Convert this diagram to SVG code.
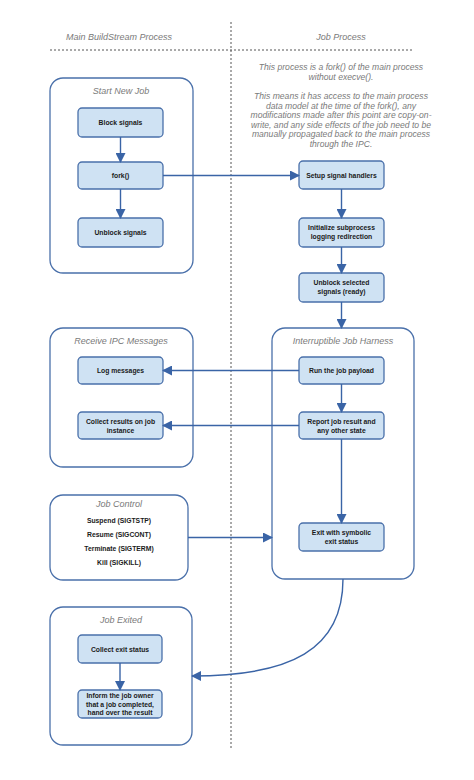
<svg xmlns="http://www.w3.org/2000/svg" width="474" height="780" viewBox="0 0 474 780">
<defs>
<marker id="ah" viewBox="0 0 10 10" refX="9" refY="5" markerWidth="10" markerHeight="10" markerUnits="userSpaceOnUse" orient="auto">
<path d="M0,0 L10,5 L0,10 z" fill="#3a64a6"/>
</marker>
<style>
.sep{stroke:#555;stroke-width:1;stroke-dasharray:2,2;fill:none}
.cont{fill:#fff;stroke:#4a70aa;stroke-width:1.3}
.node{fill:#cfe2f3;stroke:#4a70aa;stroke-width:1.3}
.lbl{font-family:"Liberation Sans",Arial,sans-serif;font-size:6.8px;font-weight:bold;fill:#1a1a1a;text-anchor:middle}
.ttl{font-family:"Liberation Sans",Arial,sans-serif;font-size:9px;font-style:italic;fill:#7a7a7a;text-anchor:middle}
.note{font-family:"Liberation Sans",Arial,sans-serif;font-size:8.6px;font-style:italic;fill:#7a7a7a;text-anchor:middle}
.edge{stroke:#3a64a6;stroke-width:1.4;fill:none;marker-end:url(#ah)}
</style>
</defs>
<rect width="474" height="780" fill="#fff"/>
<g id="separators">
<line class="sep" x1="231" y1="22" x2="231" y2="748"/>
<line class="sep" x1="50" y1="50" x2="414" y2="50"/>
<text class="ttl" x="119" y="40">Main BuildStream Process</text>
<text class="ttl" x="341" y="40">Job Process</text>
</g>
<g id="note">
<text class="note" x="341" y="70">This process is a fork() of the main process</text>
<text class="note" x="341" y="80">without execve().</text>
<text class="note" x="341" y="99">This means it has access to the main process</text>
<text class="note" x="341" y="108.5">data model at the time of the fork(), any</text>
<text class="note" x="341" y="118">modifications made after this point are copy-on-</text>
<text class="note" x="341" y="127.5">write, and any side effects of the job need to be</text>
<text class="note" x="341" y="137">manually propagated back to the main process</text>
<text class="note" x="341" y="146.5">through the IPC.</text>
</g>
<g id="start-new-job">
<rect class="cont" x="50" y="78" width="143" height="195" rx="13"/>
<text class="ttl" x="121" y="94">Start New Job</text>
</g>
<g id="block-signals">
<rect class="node" x="78" y="108" width="85" height="29" rx="4"/>
<text class="lbl" x="120.5" y="125">Block signals</text>
</g>
<g id="fork">
<rect class="node" x="78" y="162" width="85" height="27" rx="4"/>
<text class="lbl" x="120.5" y="178">fork()</text>
</g>
<g id="unblock-signals">
<rect class="node" x="78" y="218" width="85" height="29" rx="4"/>
<text class="lbl" x="120.5" y="235">Unblock signals</text>
</g>
<g id="setup-signal-handlers">
<rect class="node" x="299" y="161" width="85" height="28" rx="4"/>
<text class="lbl" x="341.5" y="177.5">Setup signal handlers</text>
</g>
<g id="init-logging">
<rect class="node" x="299" y="218" width="85" height="29" rx="4"/>
<text class="lbl" x="341.5" y="230">Initialize subprocess</text>
<text class="lbl" x="341.5" y="238.5">logging redirection</text>
</g>
<g id="unblock-selected">
<rect class="node" x="299" y="273" width="85" height="29" rx="4"/>
<text class="lbl" x="341.5" y="285">Unblock selected</text>
<text class="lbl" x="341.5" y="293.5">signals (ready)</text>
</g>
<g id="receive-ipc">
<rect class="cont" x="50" y="328" width="143" height="139" rx="13"/>
<text class="ttl" x="121" y="344">Receive IPC Messages</text>
</g>
<g id="log-messages">
<rect class="node" x="78" y="357" width="85" height="27" rx="4"/>
<text class="lbl" x="120.5" y="373">Log messages</text>
</g>
<g id="collect-results">
<rect class="node" x="78" y="412" width="85" height="27" rx="4"/>
<text class="lbl" x="120.5" y="424">Collect results on job</text>
<text class="lbl" x="120.5" y="432.5">instance</text>
</g>
<g id="job-harness">
<rect class="cont" x="272" y="328" width="142" height="251" rx="13"/>
<text class="ttl" x="343" y="344">Interruptible Job Harness</text>
</g>
<g id="run-payload">
<rect class="node" x="299" y="357" width="85" height="27" rx="4"/>
<text class="lbl" x="341.5" y="373">Run the job payload</text>
</g>
<g id="report-result">
<rect class="node" x="299" y="412" width="85" height="27" rx="4"/>
<text class="lbl" x="341.5" y="424">Report job result and</text>
<text class="lbl" x="341.5" y="432.5">any other state</text>
</g>
<g id="exit-status">
<rect class="node" x="299" y="523" width="85" height="28" rx="4"/>
<text class="lbl" x="341.5" y="535">Exit with symbolic</text>
<text class="lbl" x="341.5" y="543.5">exit status</text>
</g>
<g id="job-control">
<rect class="cont" x="50" y="495" width="138" height="85" rx="13"/>
<text class="ttl" x="119" y="507">Job Control</text>
<text class="lbl" x="119" y="523">Suspend (SIGTSTP)</text>
<text class="lbl" x="119" y="537">Resume (SIGCONT)</text>
<text class="lbl" x="119" y="551">Terminate (SIGTERM)</text>
<text class="lbl" x="119" y="565">Kill (SIGKILL)</text>
</g>
<g id="job-exited">
<rect class="cont" x="50" y="607" width="142" height="138" rx="13"/>
<text class="ttl" x="121" y="623">Job Exited</text>
</g>
<g id="collect-exit">
<rect class="node" x="78" y="635" width="84" height="28" rx="4"/>
<text class="lbl" x="120" y="651.5">Collect exit status</text>
</g>
<g id="inform-owner">
<rect class="node" x="78" y="690" width="84" height="28" rx="4"/>
<text class="lbl" x="120" y="698">Inform the job owner</text>
<text class="lbl" x="120" y="706.5">that a job completed,</text>
<text class="lbl" x="120" y="715">hand over the result</text>
</g>
<g id="connectors">
<path class="edge" d="M120.5,137 V162"/>
<path class="edge" d="M120.5,189 V218"/>
<path class="edge" d="M163,175.5 H299"/>
<path class="edge" d="M341.5,189 V218"/>
<path class="edge" d="M341.5,247 V273"/>
<path class="edge" d="M341.5,302 V328"/>
<path class="edge" d="M341.5,384 V412"/>
<path class="edge" d="M341.5,439 V523"/>
<path class="edge" d="M299,370.5 H163"/>
<path class="edge" d="M299,425.5 H163"/>
<path class="edge" d="M188,537.5 H272"/>
<path class="edge" d="M343,579 C343,650 290,676 192,676"/>
<path class="edge" d="M120,663 V690"/>
</g>
</svg>
